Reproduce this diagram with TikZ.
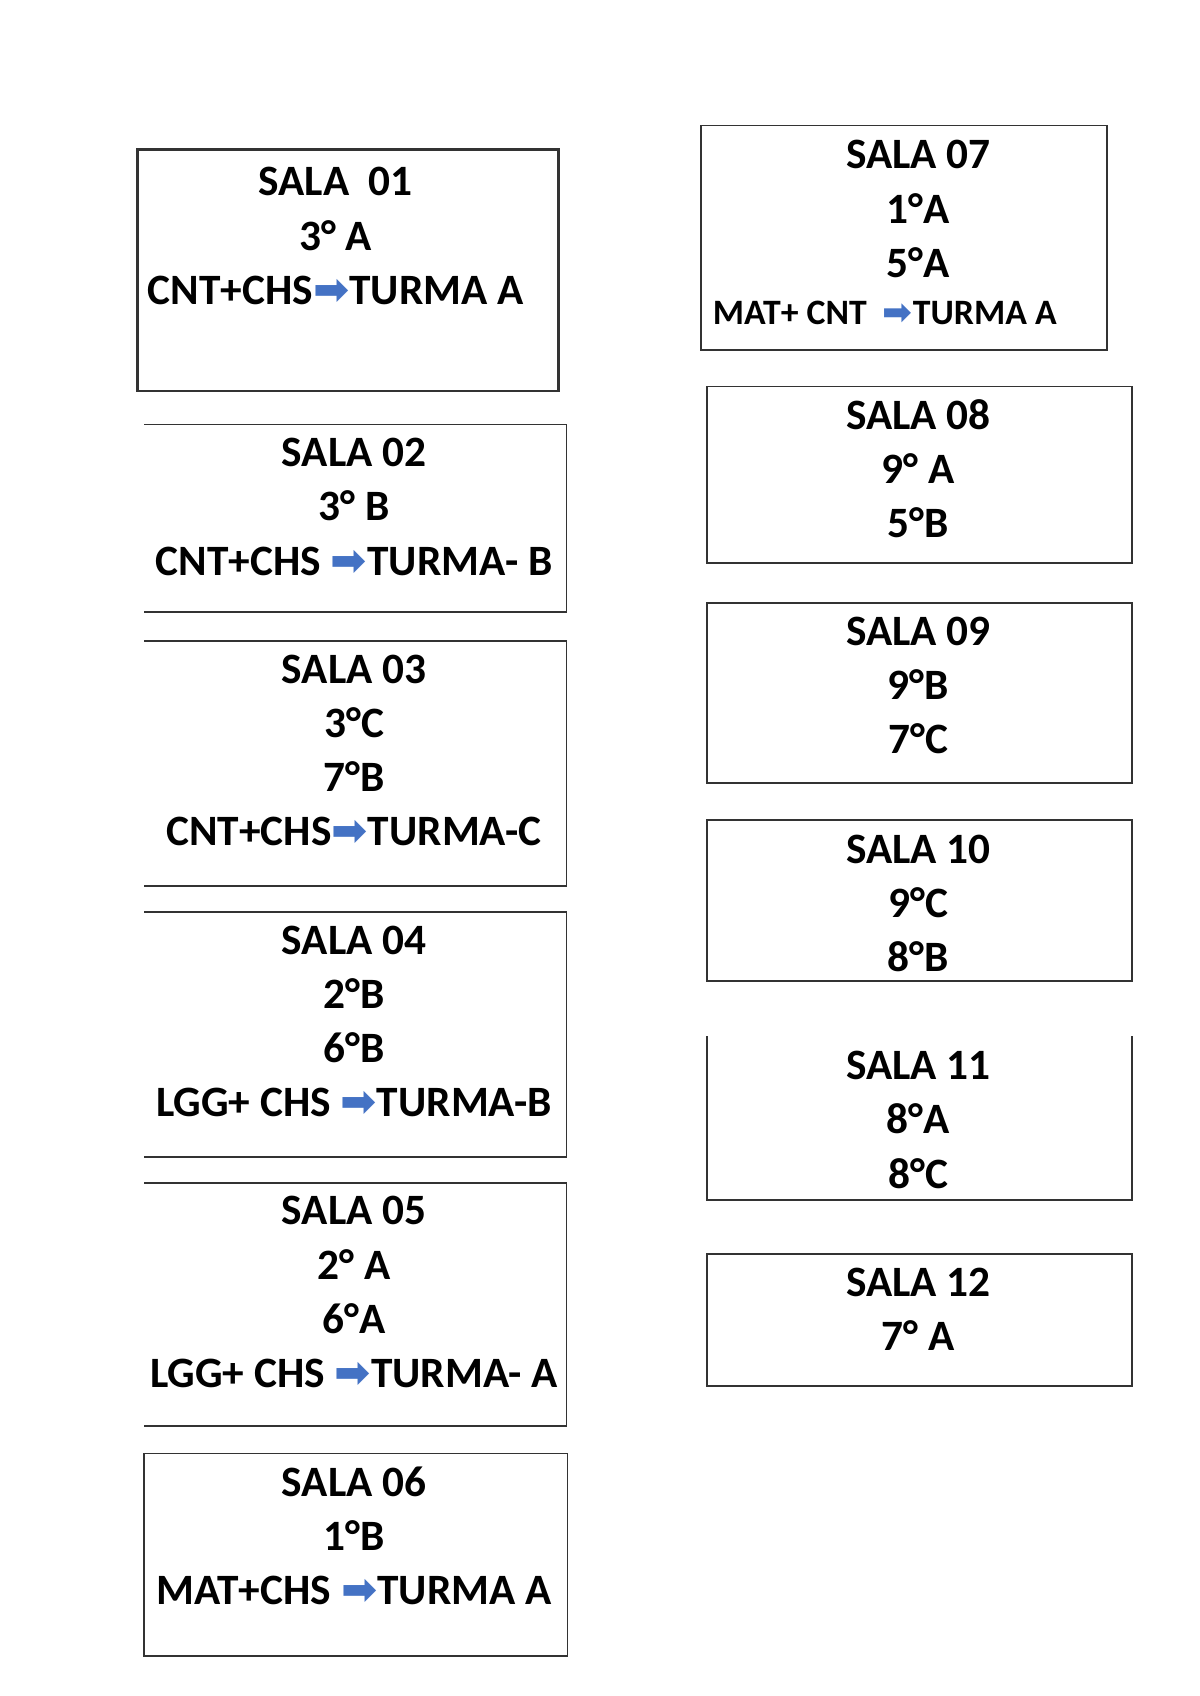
\documentclass[tikz,border=0pt]{standalone}
\usepackage{fontspec}
\setmainfont{Carlito}
\newfontfamily\symf{DejaVu Sans}
\definecolor{arrblue}{HTML}{4472C4}
\newcommand{\arr}{{\symf\textcolor{arrblue}{➡}}}
\begin{document}
\begin{tikzpicture}[x=0.5pt,y=-0.5pt,
  bx/.style={draw=black!80,line width=0.8pt},
  txt/.style={align=center,font=\bfseries\fontsize{20}{25}\selectfont,inner sep=0pt}]
\useasboundingbox (0,0) rectangle (1108,1566);
% boxes
\draw[bx,line width=1.3pt] (127,138) rectangle (516,361);
\draw[bx] (133,392) -- (523,392) -- (523,565) -- (133,565);
\draw[bx] (133,592) -- (523,592) -- (523,818) -- (133,818);
\draw[bx] (133,842) -- (523,842) -- (523,1068) -- (133,1068);
\draw[bx] (133,1092) -- (523,1092) -- (523,1317) -- (133,1317);
\draw[bx] (133,1342) rectangle (524,1529);
\draw[bx] (647,116) rectangle (1022,323);
\draw[bx] (653,357) rectangle (1045,520);
\draw[bx] (653,557) rectangle (1045,723);
\draw[bx] (653,757) rectangle (1045,906);
\draw[bx] (653,957) -- (653,1108) -- (1045,1108) -- (1045,957);
\draw[bx] (653,1158) rectangle (1045,1280);
% texts
\node[txt] (t01) at (310,218) {SALA\ \ 01\\3° A\\CNT+CHS\arr TURMA A};
\node[txt] (t02) at (327,468) {SALA 02\\3° B\\CNT+CHS \arr TURMA- B};
\node[txt] (t03) at (327,693) {SALA 03\\3°C\\7°B\\CNT+CHS\arr TURMA-C};
\node[txt] (t04) at (327,943) {SALA 04\\2°B\\6°B\\LGG+ CHS \arr TURMA-B};
\node[txt] (t05) at (327,1193) {SALA 05\\2° A\\6°A\\LGG+ CHS \arr TURMA- A};
\node[txt] (t06) at (327,1418) {SALA 06\\1°B\\MAT+CHS \arr TURMA A};
\node[txt] (t07) at (848,193) {SALA 07\\1°A\\5°A};
\node[txt,font=\bfseries\fontsize{16.5}{18}\selectfont] (t07b) at (817,289) {MAT+ CNT \ \arr TURMA A};
\node[txt] (t08) at (848,433) {SALA 08\\9° A\\5°B};
\node[txt] (t09) at (848,633) {SALA 09\\9°B\\7°C};
\node[txt] (t10) at (848,834) {SALA 10\\9°C\\8°B};
\node[txt] (t11) at (848,1034) {SALA 11\\8°A\\8°C};
\node[txt] (t12) at (848,1209) {SALA 12\\7° A};
\end{tikzpicture}
\end{document}
